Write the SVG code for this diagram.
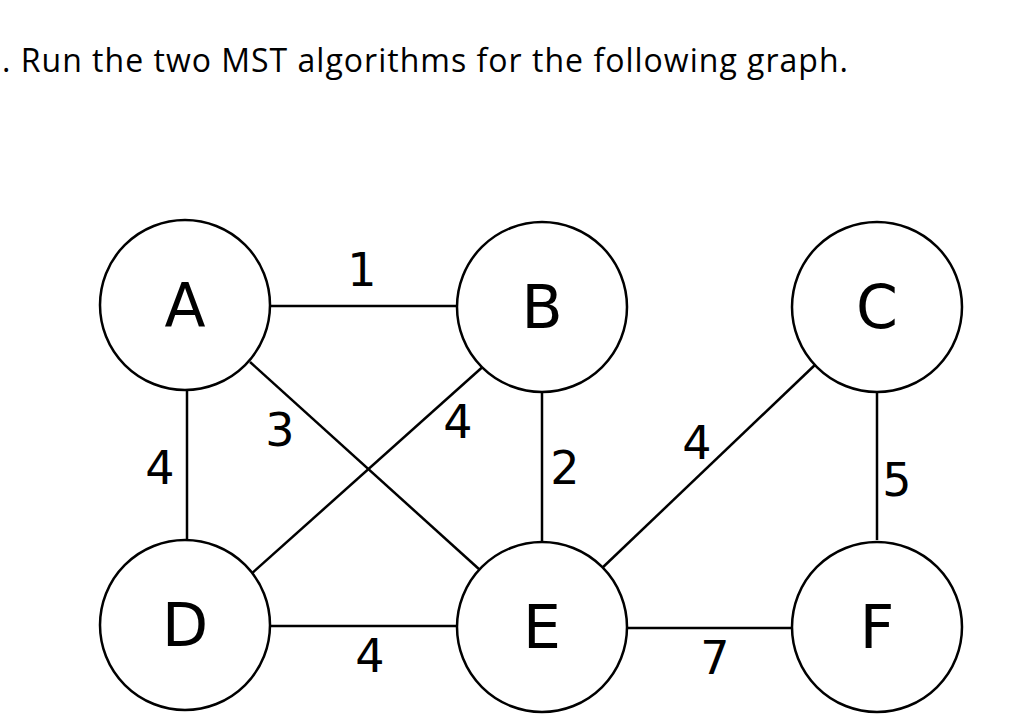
<svg xmlns="http://www.w3.org/2000/svg" width="1010" height="724" viewBox="0 0 1010 724">
<style>
.n{fill:#fff;stroke:#000;stroke-width:2.5}
.e{stroke:#000;stroke-width:2.5;fill:none}
.t{font-family:"DejaVu Sans",sans-serif;font-size:60px;text-anchor:middle;dominant-baseline:central}
.w{font-family:"DejaVu Sans",sans-serif;font-size:46px;text-anchor:middle;dominant-baseline:central}
</style>
<rect width="1010" height="724" fill="#fff"/>
<text x="2" y="72" font-family="Open Sans, sans-serif" font-size="32" textLength="846">. Run the two MST algorithms for the following graph.</text>
<g id="connectors">
<line class="e" x1="270" y1="306" x2="457" y2="306"/>
<line class="e" x1="187" y1="390" x2="187" y2="540"/>
<line class="e" x1="250" y1="362" x2="480" y2="570"/>
<line class="e" x1="487" y1="363" x2="250" y2="575"/>
<line class="e" x1="542" y1="392" x2="542" y2="542"/>
<line class="e" x1="817" y1="363" x2="600" y2="570"/>
<line class="e" x1="877" y1="392" x2="877" y2="540"/>
<line class="e" x1="270" y1="626" x2="457" y2="626"/>
<line class="e" x1="627" y1="628" x2="792" y2="628"/>
<text class="w" x="362" y="270">1</text>
<text class="w" x="280" y="430">3</text>
<text class="w" x="458" y="422">4</text>
<text class="w" x="160" y="468">4</text>
<text class="w" x="565" y="468">2</text>
<text class="w" x="697" y="443">4</text>
<text class="w" x="897" y="480">5</text>
<text class="w" x="370" y="656">4</text>
<text class="w" x="715" y="658">7</text>
</g>
<g id="A"><circle class="n" cx="185" cy="305" r="85"/><text class="t" x="185" y="305">A</text></g>
<g id="B"><circle class="n" cx="542" cy="307" r="85"/><text class="t" x="542" y="307">B</text></g>
<g id="C"><circle class="n" cx="877" cy="307" r="85"/><text class="t" x="877" y="307">C</text></g>
<g id="D"><circle class="n" cx="185" cy="625" r="85"/><text class="t" x="185" y="625">D</text></g>
<g id="E"><circle class="n" cx="542" cy="627" r="85"/><text class="t" x="542" y="627">E</text></g>
<g id="F"><circle class="n" cx="877" cy="627" r="85"/><text class="t" x="877" y="627">F</text></g>
</svg>
